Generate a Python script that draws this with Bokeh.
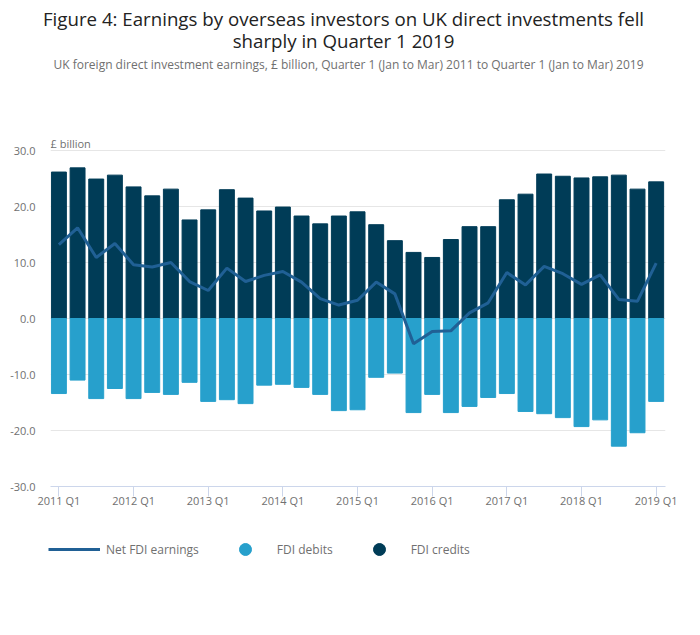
from bokeh.plotting import figure
from bokeh.layouts import column
from bokeh.models import (ColumnDataSource, FixedTicker, PrintfTickFormatter,
                          Label, Legend, LegendItem, Range1d)
from bokeh.core.properties import value
from bokeh.embed import file_html
from bokeh.resources import INLINE

quarters = [f"{y} Q{q}" for y in range(2011, 2020) for q in range(1, 5)][:33]
credits = [26.15, 26.9, 24.9, 25.6, 23.5, 21.9, 23.1, 17.6, 19.4, 23.0, 21.5,
           19.2, 19.9, 18.3, 16.9, 18.3, 19.05, 16.75, 13.9, 11.8, 10.9, 14.1,
           16.4, 16.4, 21.2, 22.2, 25.8, 25.4, 25.1, 25.3, 25.6, 23.1, 24.4]
debits = [-13.4, -11.0, -14.3, -12.5, -14.3, -13.2, -13.55, -11.4, -14.8, -14.5,
          -15.2, -11.9, -11.75, -12.3, -13.55, -16.45, -16.3, -10.5, -9.75, -16.8,
          -13.55, -16.8, -15.7, -14.1, -13.4, -16.6, -17.0, -17.7, -19.3, -18.1,
          -22.8, -20.4, -14.8]
net = [13.2, 16.2, 10.9, 13.4, 9.6, 9.2, 10.0, 6.6, 5.0, 9.0, 6.6, 7.7, 8.4,
       6.5, 3.55, 2.4, 3.25, 6.5, 4.4, -4.5, -2.3, -2.2, 1.0, 2.8, 8.2, 6.0,
       9.3, 8.0, 6.1, 7.8, 3.4, 3.1, 9.9]
tick_idx = list(range(0, 33, 4))
y_ticks = [-30, -20, -10, 0, 10, 20, 30]

title_1 = "Figure 4: Earnings by overseas investors on UK direct investments fell"
title_2 = "sharply in Quarter 1 2019"
subtitle = ("UK foreign direct investment earnings, £ billion, Quarter 1 (Jan to Mar) "
            "2011 to Quarter 1 (Jan to Mar) 2019")
unit_label = "£ billion"
series_names = ["Net FDI earnings", "FDI debits", "FDI credits"]

FONT = "Open Sans"
GREY = "#707070"
C_CRED = "#003c57"
C_DEB = "#27a0cc"
C_NET = "#206095"

W = 700
TOP_H = 125          # heading panel
MAIN_H = 395         # chart panel (canvas y 125..520)
LEG_H = 635 - TOP_H - MAIN_H
FL, FR = 50, 665     # frame left/right in canvas px
PX_PER_UNIT = 5.6
Y_TOP = 30 + 25 / PX_PER_UNIT   # frame starts 25 px above the 30 gridline


def blank_fig(h):
    f = figure(width=W, height=h, output_backend="svg", toolbar_location=None,
               title=None, x_range=Range1d(0, W), y_range=Range1d(h, 0),
               x_axis_type=None, y_axis_type=None, frame_align=False,
               min_border=0, min_border_left=0, min_border_right=0,
               min_border_top=0, min_border_bottom=0)
    f.outline_line_color = None
    f.xgrid.visible = False
    f.ygrid.visible = False
    return f


# ---------- heading ----------
top = blank_fig(TOP_H)
top.text(x=[343, 343], y=[18, 40], text=[title_1, title_2],
         text_font=value(FONT), text_font_size="18.7px", text_color="#222222",
         text_align="center", text_baseline="middle")
top.text(x=[348], y=[64], text=[subtitle],
         text_font=value(FONT), text_font_size="12px", text_color=GREY,
         text_align="center", text_baseline="middle")

# ---------- main chart ----------
src = ColumnDataSource(dict(x=list(range(len(quarters))), credits=credits,
                            debits=debits, net=net, q=quarters))

p = figure(width=W, height=MAIN_H, output_backend="svg", toolbar_location=None,
           title=None, x_range=Range1d(-0.45, 32.5), y_range=Range1d(-30, Y_TOP),
           min_border_left=FL, min_border_right=W - FR, frame_align=False,
           min_border_top=0, min_border_bottom=34)
p.outline_line_color = None

p.vbar(x="x", top="credits", bottom=0, width=0.8, color=C_CRED, source=src)
p.vbar(x="x", top="debits", bottom=0, width=0.8, color=C_DEB, source=src)
p.line(x="x", y="net", line_width=3, color=C_NET, source=src)

xa = p.xaxis[0]
xa.ticker = FixedTicker(ticks=tick_idx)
xa.major_label_overrides = {i: quarters[i] for i in tick_idx}
xa.axis_line_color = "#ccd6eb"
xa.major_tick_line_color = "#ccd6eb"
xa.major_tick_out = 10
xa.major_tick_in = 0
xa.minor_tick_line_color = None
xa.major_label_standoff = -4
xa.major_label_text_font = FONT
xa.major_label_text_font_size = "11px"
xa.major_label_text_color = GREY

ya = p.yaxis[0]
ya.ticker = FixedTicker(ticks=y_ticks)
ya.formatter = PrintfTickFormatter(format="%.1f")
ya.axis_line_color = None
ya.major_tick_line_color = None
ya.minor_tick_line_color = None
ya.major_tick_out = 0
ya.major_tick_in = 0
ya.major_label_standoff = 15
ya.major_label_text_font = FONT
ya.major_label_text_font_size = "11px"
ya.major_label_text_color = GREY

p.xgrid.grid_line_color = None
p.ygrid.grid_line_color = "#e6e6e6"
p.ygrid.ticker = FixedTicker(ticks=[-20, -10, 0, 10, 20, 30])

p.add_layout(Label(x=0, y=30, x_units="screen", y_units="data", y_offset=7,
                   text=unit_label, text_font=FONT, text_font_size="11px",
                   text_color=GREY, text_align="left", text_baseline="middle"))

# ---------- legend ----------
lg = blank_fig(LEG_H)
nan = float("nan")
empty = ColumnDataSource(dict(x=[nan], y=[nan]))
r_net = lg.line(x="x", y="y", source=empty, line_width=3, color=C_NET)
r_deb = lg.scatter(x="x", y="y", source=empty, size=12, color=C_DEB)
r_cred = lg.scatter(x="x", y="y", source=empty, size=12, color=C_CRED)
legend = Legend(items=[LegendItem(label=series_names[0], renderers=[r_net]),
                       LegendItem(label=series_names[1], renderers=[r_deb]),
                       LegendItem(label=series_names[2], renderers=[r_cred])],
                orientation="horizontal", location=(48, LEG_H - 44),
                glyph_width=52, glyph_height=30, label_height=20,
                label_standoff=6, spacing=20, padding=0, margin=0,
                border_line_color=None, background_fill_alpha=0,
                label_text_font=FONT, label_text_font_size="12px",
                label_text_color=GREY)
lg.add_layout(legend)

layout = column(top, p, lg, spacing=0)
open("out.html", "w").write(file_html(layout, INLINE))
